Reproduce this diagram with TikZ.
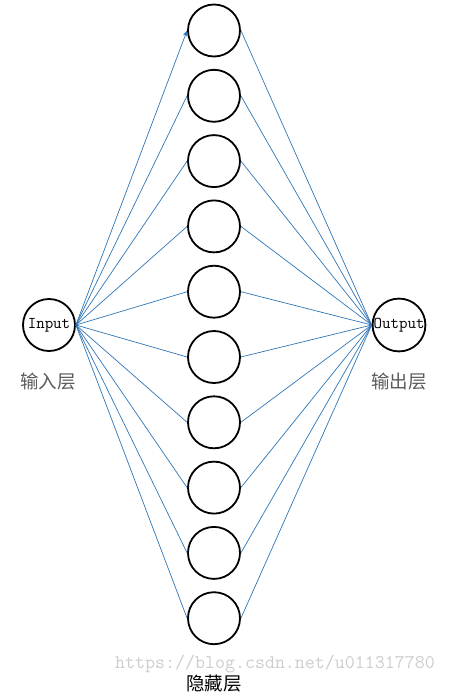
\documentclass[tikz,border=0pt]{standalone}
\usepackage{fontspec}
\newfontfamily\cjk{Noto Sans CJK SC}
\usetikzlibrary{arrows.meta}
\definecolor{edgeblue}{RGB}{46,117,182}
\definecolor{labgray}{RGB}{90,90,90}
\definecolor{wmgray}{RGB}{205,205,205}
\begin{document}
\begin{tikzpicture}[x=1pt,y=-1pt,
  neuron/.style={circle,draw=black,line width=1.8pt,minimum size=52pt,inner sep=0pt,font=\ttfamily\fontsize{16.5}{18}\selectfont},
  conn/.style={draw=edgeblue,line width=0.7pt},
  cjklab/.style={font=\cjk\fontsize{18.5}{21}\selectfont,inner sep=0pt}]
\useasboundingbox (0,0) rectangle (448,698);
\node[font=\ttfamily\fontsize{19.4}{22}\selectfont,text=wmgray,inner sep=0pt] (wm) at (275,664) {https://blog.csdn.net/u011317780};
\node[neuron] (in) at (49,325) {Input};
\node[neuron] (out) at (399,325) {Output};
\foreach \i in {1,...,10} {
  \node[neuron] (h\i) at (214,{30.5+65.3*(\i-1)}) {};
}
\draw[conn,-{Stealth[length=6pt,width=4.5pt]}] (in.east) -- (h1.west);
\foreach \i in {2,...,10} {
  \draw[conn] (in.east) -- (h\i.west);
}
\foreach \i in {1,...,10} {
  \draw[conn] (h\i.east) -- (out.west);
}
\node[cjklab,text=labgray] (lin) at (48,382) {输入层};
\node[cjklab,text=labgray] (lout) at (399,382) {输出层};
\node[cjklab,text=black] (lhid) at (214,684) {隐藏层};
\end{tikzpicture}
\end{document}
